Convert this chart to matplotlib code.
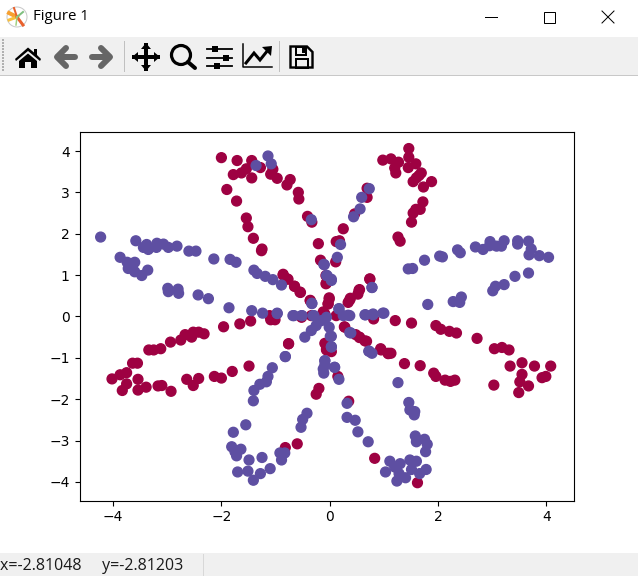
import numpy as np
import matplotlib.pyplot as plt
from matplotlib.patches import Circle, Polygon, Rectangle

# values
x_red = [-2.00,-1.71,-1.44,-1.28,-1.05,-1.54,-1.63,-1.78,-1.44,-1.09,-.97,-.73,-.79,-.58,-.57,-1.90,-1.72,-1.54,-1.51,-1.41,-1.25,-1.26,-.41,-.33,-.21,-.17,-.07,-.06,-.86,-.77,-.65,-.54,-.36,-.01,-.03,-1.11,-.09,
         1.46,1.46,.98,1.13,1.27,1.20,1.22,1.45,1.59,1.69,1.65,1.60,1.54,1.88,1.73,1.72,1.67,1.59,1.54,1.51,1.26,1.30,.69,.69,.46,.25,.18,.12,.11,.74,.55,.52,.38,.34,
         -1.96,-1.66,-1.46,-1.09,-2.32,-2.42,-2.52,-2.67,-2.55,-2.75,-2.94,-3.12,-3.25,-3.34,-.76,-3.55,-3.64,-3.75,-3.87,-4.02,-3.54,-3.75,-3.83,-3.54,-3.39,-3.17,-3.10,-2.93,-2.64,-2.42,-2.52,-2.13,-2.00,-1.80,-1.49,-.06,-.09,-.20,-.25,-.82,-.60,
         1.21,1.51,1.96,2.05,2.21,2.34,2.72,3.04,3.18,3.31,3.55,3.33,3.78,4.08,3.55,3.51,3.67,3.92,3.99,3.03,3.49,1.92,1.96,2.13,2.23,2.31,1.67,1.38,.94,1.08,1.13,.65,.55,.48,.27,.15,.35,.83,1.62,.81,.03,
         -.86,-.79,-.65,-.55,-.36,-.01,-.03,.54,.37,-.12,-.34,-.52,-1.01,.12,.28,.55,.68,-.76,.95,1.08,-.06,0.0,.74,-.07]
y_red = [3.84,3.77,3.77,3.60,3.56,3.57,3.47,3.43,3.35,3.44,3.34,3.31,3.18,3.00,2.84,3.07,2.79,2.38,2.17,1.89,1.63,1.59,2.42,2.28,1.76,1.36,.99,.81,1.00,.90,.73,.58,.38,.42,.30,.02,.06,
         4.06,3.85,3.78,3.81,3.73,3.59,3.47,3.60,3.69,3.47,3.41,3.35,3.26,3.26,3.13,2.77,2.59,2.59,2.50,2.28,1.92,1.82,3.10,2.88,2.48,2.12,1.83,1.81,1.32,.90,.65,.54,.44,.34,
         -.25,-.18,-.11,-.08,-.42,-.38,-.38,-.44,-.50,-.57,-.62,-.78,-.81,-.81,-.66,-1.13,-1.13,-1.36,-1.41,-1.51,-1.52,-1.63,-1.79,-1.78,-1.71,-1.68,-1.67,-1.81,-1.52,-1.50,-1.67,-1.45,-1.49,-1.33,-1.20,-.81,-.65,-1.74,-1.88,-3.17,-3.08,
         -.10,-.16,-.22,-.31,-.36,-.40,-.53,-.78,-.75,-.81,-1.12,-1.20,-1.20,-1.20,-1.40,-1.58,-1.68,-1.48,-1.45,-1.66,-1.84,-1.37,-1.45,-1.54,-1.57,-1.54,-1.19,-1.14,-.78,-.89,-.89,-.59,-.51,-.44,-.25,-1.45,-2.05,-3.43,-4.02,-.06,-.85,
         1.02,.91,.73,.59,.39,.45,.31,.63,.40,.11,.02,-.02,-.08,.02,-.26,-.50,-.60,-.66,-.81,-.90,-.78,-.81,.91,.79]

x_blue = [-1.14,-1.08,-1.36,-4.23,-3.58,-3.44,-3.38,-3.35,-3.19,-3.20,-3.07,-2.98,-2.82,-2.60,-2.47,-2.14,-1.84,-1.73,-3.87,-3.74,-3.60,-3.72,-3.60,-3.36,-3.47,-2.99,-2.98,-2.80,-2.79,-2.43,-2.24,-1.86,-1.44,-1.24,-.97,-1.40,-1.34,-1.19,-1.05,-.89,-.10,-.06,-.34,-.33,-.68,-.52,-.29,
          .73,.59,.56,.44,.20,.14,.03,.78,.17,.34,.65,.80,.98,1.45,1.53,1.75,2.03,2.08,2.36,2.41,2.69,2.83,2.96,2.95,3.08,3.17,3.22,3.47,3.47,3.67,3.72,3.68,3.87,4.04,3.67,3.42,3.22,3.06,3.01,2.43,2.28,2.40,1.81,
          -.82,-1.06,-1.14,-1.17,-1.29,-1.40,-1.41,-.42,-.50,-.53,-1.55,-1.78,-1.81,-1.64,-1.75,-1.72,-1.49,-1.25,-.92,-.83,-.89,-1.10,-1.28,-1.51,-1.70,-1.41,-.09,-.11,-.09,
          .37,.72,.78,.09,.17,1.26,.32,1.46,1.48,1.57,1.56,.32,.47,.52,.71,1.58,1.60,1.75,1.80,1.77,1.11,1.03,1.20,1.30,1.48,1.60,1.51,1.66,1.78,1.28,1.24,1.40,.03,.03,
          -.97,-.66,-.51,-.31,-.33,-.11,-.05,.03,.78,.17,.25,.37,.66,.80,1.00,-.06,-.15,-.25,-.34,-.46,-.01,.01,.03,.39,.73,-.82,-.09,-.12,.09]
y_blue = [3.88,3.69,3.65,1.92,1.83,1.67,1.74,1.62,1.77,1.67,1.75,1.67,1.70,1.58,1.58,1.39,1.38,1.31,1.43,1.31,1.31,1.16,1.08,1.12,.99,.68,.60,.66,.56,.52,.43,.21,.14,.08,.07,1.12,1.04,.97,.89,.76,1.25,.99,2.34,.32,.02,.02,.02,
          3.09,2.88,2.60,2.41,1.74,1.43,.90,.70,.18,.03,.04,.06,.08,1.15,1.16,1.36,1.46,1.44,1.61,1.54,1.68,1.62,1.81,1.71,1.70,1.70,1.83,1.83,1.75,1.82,1.63,1.49,1.47,1.43,1.05,.97,.77,.73,.62,.47,.36,.34,.29,
          -.97,-1.24,-1.45,-1.58,-1.64,-1.79,-2.04,-2.34,-2.49,-2.68,-2.62,-2.80,-3.15,-3.21,-3.27,-3.37,-3.47,-3.41,-3.30,-3.30,-3.47,-3.68,-3.80,-3.74,-3.76,-3.96,-1.07,-1.37,-1.17,
          -.39,-.84,-.89,-1.23,-1.52,-1.60,-2.10,-2.08,-2.26,-2.30,-2.38,-2.44,-2.51,-2.79,-3.03,-2.89,-3.03,-2.97,-3.09,-3.27,-3.50,-3.76,-3.64,-3.56,-3.47,-3.50,-3.70,-3.80,-3.70,-3.80,-3.98,-3.90,-.48,-.73,
          .08,.02,.02,.02,.31,1.26,.99,.87,.70,.19,.02,.02,.04,.04,.08,-.02,-.10,-.22,-.34,-.50,-.26,-.48,-.74,-.40,-.84,-.97,-1.07,-1.27,-1.23]

status_text = "x=-2.81048     y=-2.81203"
title_text = "Figure 1"

W, H = 638, 576
plt.rcParams['font.family'] = 'DejaVu Sans'
fig = plt.figure(figsize=(W / 100, H / 100), dpi=100)

# window chrome in pixel coordinates
ch = fig.add_axes([0, 0, 1, 1], zorder=0)
ch.set_xlim(0, W)
ch.set_ylim(H, 0)
ch.axis("off")
px = 72 / 100

grey = "#f0f0f0"
ch.add_patch(Rectangle((0, 37), W, 38, fc=grey, ec="none"))
ch.add_patch(Rectangle((0, 74.5), W, 1.2, fc="#c8c8c8", ec="none"))
ch.add_patch(Rectangle((0, 553), W, 23, fc=grey, ec="none"))
ch.plot([203, 203], [554, 576], color="#d8d8d8", lw=1 * px)
ch.plot([124, 124], [41, 71], color="#c0c0c0", lw=1 * px)
ch.plot([279, 279], [41, 71], color="#c0c0c0", lw=1 * px)
ch.scatter([3] * 11, np.arange(40, 73, 3), s=1, color="#b0b0b0", marker="s", linewidths=0)

ch.text(33, 17, title_text, fontsize=10.8, family="Open Sans", va="center", ha="left", color="black")
ch.text(0, 566, status_text, fontsize=11.5, family="Open Sans", va="center", ha="left", color="#1a1a1a")

# logo
ch.add_patch(Circle((17, 17), 10, fc="white", ec="#c8c8c8", lw=1 * px))
ch.plot([17, 9], [17, 13], color="#f7a030", lw=4 * px)
ch.plot([17, 9], [17, 20], color="#f7c040", lw=3 * px)
ch.plot([17, 23], [17, 25], color="#e8602c", lw=3 * px)
ch.plot([17, 14], [17, 8], color="#e8602c", lw=2 * px)
ch.plot([17, 23], [17, 12], color="#80c080", lw=2 * px)
ch.plot([17, 16], [17, 25], color="#a0d080", lw=1.5 * px)

# window buttons
ch.plot([485, 497], [17, 17], color="black", lw=1 * px)
ch.add_patch(Rectangle((543.5, 11.5), 11, 11, fc="none", ec="black", lw=1 * px))
ch.plot([602, 614], [11, 23], color="black", lw=1 * px)
ch.plot([602, 614], [23, 11], color="black", lw=1 * px)

# home
ch.add_patch(Polygon([(15, 59), (28, 47.5), (34, 52.5), (34, 49), (37, 49), (37, 55), (41, 59), (40, 61), (28, 51), (16, 61)], fc="black"))
ch.add_patch(Polygon([(19, 61), (28, 53.5), (37, 61), (37, 68), (31, 68), (31, 62), (25, 62), (25, 68), (19, 68)], fc="black"))

# back, forward
for pts in ([(75, 57), (58, 57)], [(66, 48), (57, 57), (66, 66)]):
    ch.plot(*zip(*pts), color="#666666", lw=6 * px, solid_capstyle="round", solid_joinstyle="round")
for pts in ([(92, 57), (109, 57)], [(101, 48), (110, 57), (101, 66)]):
    ch.plot(*zip(*pts), color="#666666", lw=6 * px, solid_capstyle="round", solid_joinstyle="round")

# pan
ch.plot([134, 158], [57, 57], color="black", lw=4 * px)
ch.plot([146, 146], [45, 69], color="black", lw=4 * px)
ch.add_patch(Polygon([(132, 57), (138, 52), (138, 62)], fc="black"))
ch.add_patch(Polygon([(160, 57), (154, 52), (154, 62)], fc="black"))
ch.add_patch(Polygon([(146, 43), (141, 49), (151, 49)], fc="black"))
ch.add_patch(Polygon([(146, 71), (141, 65), (151, 65)], fc="black"))

# zoom
ch.add_patch(Circle((181, 55), 9.5, fc="none", ec="black", lw=3.2 * px))
ch.plot([188, 195], [62, 68], color="black", lw=4 * px, solid_capstyle="round")

# sliders
for yy, kx in zip([49, 58, 66], [215, 226, 217]):
    ch.plot([207, 232], [yy, yy], color="black", lw=1.8 * px)
    ch.add_patch(Rectangle((kx - 3, yy - 3), 6, 6, fc="black", ec="none"))

# lines
ch.plot([243, 243, 272], [44, 67, 67], color="black", lw=1.5 * px)
ch.plot([246, 254, 260, 268], [63, 53, 60, 50], color="black", lw=3 * px, solid_joinstyle="miter")
ch.add_patch(Polygon([(262, 47), (272, 46), (271, 56)], fc="black"))

# save
ch.add_patch(Polygon([(290.5, 46.5), (307, 46.5), (312.5, 52), (312.5, 67.5), (290.5, 67.5)], fc="none", ec="black", lw=2.4 * px))
ch.add_patch(Rectangle((296, 46.5), 10, 8, fc="none", ec="black", lw=2 * px))
ch.add_patch(Rectangle((302, 48), 2.5, 5, fc="black", ec="none"))
ch.add_patch(Rectangle((295.5, 58.5), 12, 9, fc="none", ec="black", lw=2 * px))

# the scatter
ax = fig.add_axes([79.5 / W, 1 - 500.5 / H, 494.5 / W, 368.5 / H], zorder=1)
x = np.array(x_red + x_blue)
y = np.array(y_red + y_blue)
labels = np.array([0] * len(x_red) + [1] * len(x_blue))
ax.scatter(x, y, c=labels, cmap=plt.cm.Spectral, s=50)
ax.set_xlim(-4.62, 4.51)
ax.set_ylim(-4.45, 4.46)
ax.set_xticks([-4, -2, 0, 2, 4])
ax.set_yticks([-4, -3, -2, -1, 0, 1, 2, 3, 4])
ax.tick_params(labelsize=10)

fig.savefig("out.png", dpi=100)
